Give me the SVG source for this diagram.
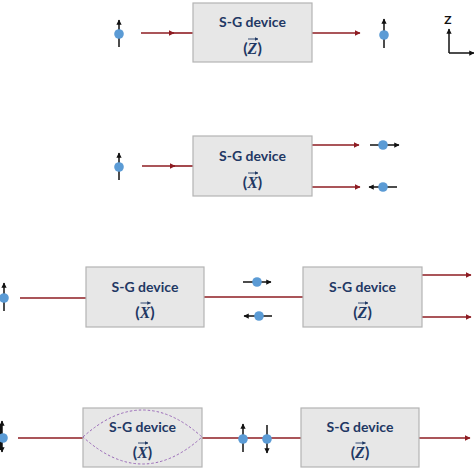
<svg xmlns="http://www.w3.org/2000/svg" width="474" height="474" viewBox="0 0 474 474">
<style>
.box{fill:#e7e7e7;stroke:#b4b4b4;stroke-width:1.2}
.t{font-family:Lato,"Open Sans",sans-serif;font-weight:bold;font-size:14px;fill:#1f3864;text-anchor:middle}
.p{font-size:16px}
.ti{font-family:"Liberation Serif",serif;font-style:italic;font-weight:bold;font-size:16px}
.w{stroke:#8e1c22;stroke-width:1.6;fill:none}
.sa{stroke:#111;stroke-width:1.5;fill:none}
.dot{fill:#5b9bd5}
.lens{fill:none;stroke:#9a6ab8;stroke-width:1;stroke-dasharray:2.5,2}
.vec{stroke:#1f3864;stroke-width:0.9;fill:none}
.ax{stroke:#111;stroke-width:1.5;fill:none}
</style>
<defs>
<marker id="ra" viewBox="0 0 10 10" refX="9" refY="5" markerWidth="3.5" markerHeight="3.5" orient="auto" markerUnits="strokeWidth"><path d="M0,0L10,5L0,10z" fill="#8e1c22"/></marker>
<marker id="ka" viewBox="0 0 10 10" refX="9" refY="5" markerWidth="3.5" markerHeight="3.5" orient="auto" markerUnits="strokeWidth"><path d="M0,0L10,5L0,10z" fill="#111"/></marker>
<marker id="va" viewBox="0 0 10 10" refX="9" refY="5" markerWidth="4" markerHeight="4" orient="auto" markerUnits="strokeWidth"><path d="M0,0L10,5L0,10z" fill="#1f3864"/></marker>
</defs>

<g id="connectors">
<line class="w" x1="141" y1="33" x2="174" y2="33" marker-end="url(#ra)"/>
<line class="w" x1="172" y1="33" x2="193" y2="33"/>
<line class="w" x1="312" y1="33" x2="360" y2="33" marker-end="url(#ra)"/>
<line class="w" x1="142" y1="166" x2="175" y2="166" marker-end="url(#ra)"/>
<line class="w" x1="173" y1="166" x2="193" y2="166"/>
<line class="w" x1="312" y1="145" x2="359" y2="145" marker-end="url(#ra)"/>
<line class="w" x1="312" y1="187" x2="360" y2="187" marker-end="url(#ra)"/>
<line class="w" x1="20" y1="298" x2="86" y2="298"/>
<line class="w" x1="204" y1="297" x2="303" y2="297"/>
<line class="w" x1="422" y1="275" x2="471" y2="275" marker-end="url(#ra)"/>
<line class="w" x1="422" y1="317" x2="471" y2="317" marker-end="url(#ra)"/>
<line class="w" x1="18" y1="438" x2="83" y2="438"/>
<line class="w" x1="202" y1="438" x2="301" y2="438"/>
<line class="w" x1="419" y1="438" x2="470" y2="438" marker-end="url(#ra)"/>
</g>

<g id="axes">
<text x="448" y="24" font-family="Lato,'Open Sans',sans-serif" font-weight="bold" font-size="12" text-anchor="middle" fill="#111">Z</text>
<line class="ax" x1="449" y1="53" x2="449" y2="29" marker-end="url(#ka)"/>
<line class="ax" x1="449" y1="53" x2="474" y2="53" marker-end="url(#ka)"/>
</g>

<g id="dev1">
<rect class="box" x="193" y="3" width="119" height="59"/>
<text class="t" x="252.5" y="26.5">S-G device</text>
<text class="t p" x="252.5" y="54">(<tspan class="ti">Z</tspan>)</text>
<line class="vec" x1="248" y1="39" x2="258" y2="39" marker-end="url(#va)"/>
</g>
<g id="dev2">
<rect class="box" x="193" y="136" width="119" height="60"/>
<text class="t" x="252.5" y="160.5">S-G device</text>
<text class="t p" x="252.5" y="188">(<tspan class="ti">X</tspan>)</text>
<line class="vec" x1="248" y1="173" x2="258" y2="173" marker-end="url(#va)"/>
</g>
<g id="dev3">
<rect class="box" x="86" y="267" width="118" height="60"/>
<text class="t" x="145" y="291.5">S-G device</text>
<text class="t p" x="145" y="318">(<tspan class="ti">X</tspan>)</text>
<line class="vec" x1="140.5" y1="303" x2="150.5" y2="303" marker-end="url(#va)"/>
</g>
<g id="dev4">
<rect class="box" x="303" y="267" width="119" height="60"/>
<text class="t" x="362.5" y="291.5">S-G device</text>
<text class="t p" x="362.5" y="318">(<tspan class="ti">Z</tspan>)</text>
<line class="vec" x1="358" y1="303" x2="368" y2="303" marker-end="url(#va)"/>
</g>
<g id="dev5">
<rect class="box" x="83" y="408" width="119" height="59"/>
<path class="lens" d="M83,437 Q142.5,383 202,437 Q142.5,491 83,437Z"/>
<text class="t" x="142.5" y="431.5">S-G device</text>
<text class="t p" x="142.5" y="458">(<tspan class="ti">X</tspan>)</text>
<line class="vec" x1="138" y1="443" x2="148" y2="443" marker-end="url(#va)"/>
</g>
<g id="dev6">
<rect class="box" x="301" y="408" width="118" height="59"/>
<text class="t" x="360" y="431.5">S-G device</text>
<text class="t p" x="360" y="458">(<tspan class="ti">Z</tspan>)</text>
<line class="vec" x1="355.5" y1="443" x2="365.5" y2="443" marker-end="url(#va)"/>
</g>

<g id="spin-r1-in"><line class="sa" x1="119" y1="47" x2="119" y2="20" marker-end="url(#ka)"/><circle class="dot" cx="119" cy="34" r="4.8"/></g>
<g id="spin-r1-out"><line class="sa" x1="384" y1="48" x2="384" y2="19" marker-end="url(#ka)"/><circle class="dot" cx="384" cy="35" r="4.8"/></g>
<g id="spin-r2-in"><line class="sa" x1="119" y1="180" x2="119" y2="153" marker-end="url(#ka)"/><circle class="dot" cx="119" cy="167" r="4.8"/></g>
<g id="spin-r2-up"><line class="sa" x1="370" y1="145" x2="399" y2="145" marker-end="url(#ka)"/><circle class="dot" cx="383" cy="145" r="4.8"/></g>
<g id="spin-r2-down"><line class="sa" x1="397" y1="187" x2="369" y2="187" marker-end="url(#ka)"/><circle class="dot" cx="383" cy="187" r="4.8"/></g>
<g id="spin-r3-in"><line class="sa" x1="4" y1="311" x2="4" y2="283" marker-end="url(#ka)"/><circle class="dot" cx="4" cy="298" r="4.8"/></g>
<g id="spin-r3-up"><line class="sa" x1="243" y1="282" x2="271" y2="282" marker-end="url(#ka)"/><circle class="dot" cx="257" cy="282" r="4.8"/></g>
<g id="spin-r3-down"><line class="sa" x1="272" y1="316" x2="244" y2="316" marker-end="url(#ka)"/><circle class="dot" cx="259" cy="316" r="4.8"/></g>
<g id="spin-r4-in"><line class="sa" x1="2" y1="438" x2="2" y2="421" marker-end="url(#ka)"/><line class="sa" x1="2" y1="438" x2="2" y2="452" marker-end="url(#ka)"/><line x1="0.5" y1="424" x2="0.5" y2="450" stroke="#111" stroke-width="3"/><circle class="dot" cx="3" cy="438" r="4.8"/></g>
<g id="spin-r4-up"><line class="sa" x1="243" y1="452" x2="243" y2="424" marker-end="url(#ka)"/><circle class="dot" cx="243" cy="439" r="4.8"/></g>
<g id="spin-r4-down"><line class="sa" x1="267" y1="425" x2="267" y2="453" marker-end="url(#ka)"/><circle class="dot" cx="267" cy="439" r="4.8"/></g>
</svg>
